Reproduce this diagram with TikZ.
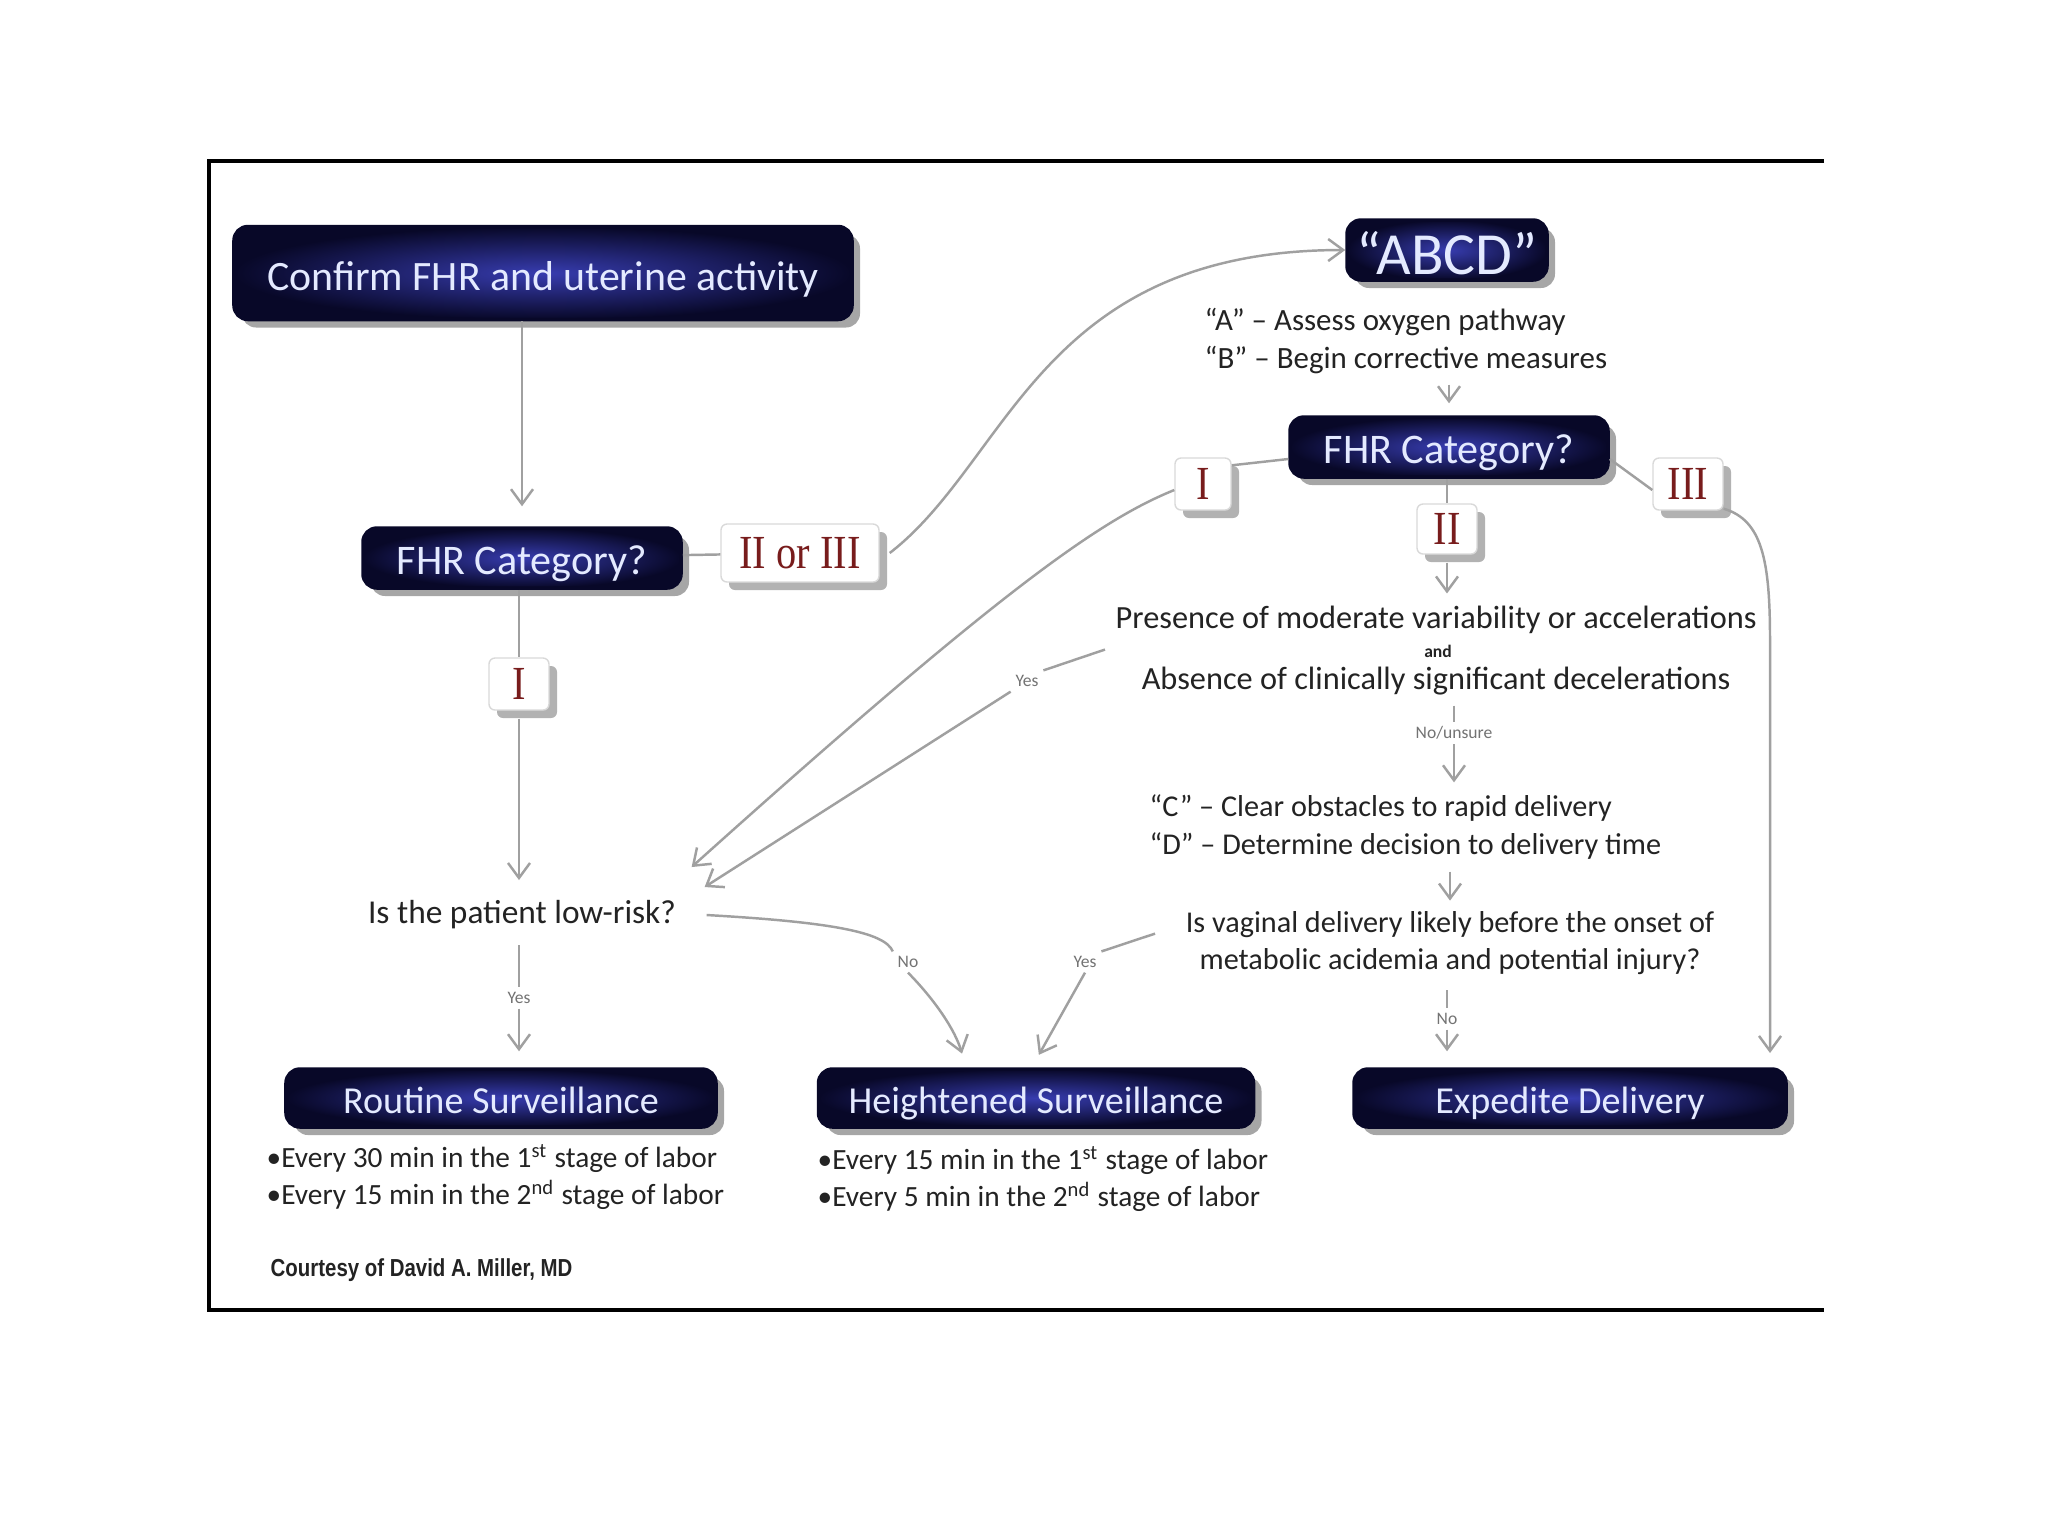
\documentclass[tikz,border=0pt]{standalone}
\usepackage{fontspec}
\usepackage{graphicx}
\setmainfont{Carlito}
\newfontfamily\tagfont{Liberation Serif}
\newfontfamily\credfont{Liberation Sans}
\usetikzlibrary{arrows.meta,shadows,calc}

\definecolor{navyedge}{RGB}{8,8,40}
\definecolor{navymid}{RGB}{55,60,175}
\definecolor{boxtext}{RGB}{228,234,255}
\definecolor{conn}{RGB}{160,160,160}
\definecolor{tagred}{RGB}{120,28,28}
\definecolor{txt}{RGB}{35,35,35}

\tikzset{
  darkbox/.style={rounded corners=1.4mm, draw=navyedge, line width=1pt,
    inner color=navymid, outer color=navyedge, text=boxtext,
    drop shadow={shadow xshift=0.8mm, shadow yshift=-0.8mm, fill=black, opacity=0.35},
    inner sep=0pt, align=center},
  tagbox/.style={fill=white, draw=gray!30, line width=0.4pt, rounded corners=0.6mm,
    text=tagred, inner sep=0pt,
    drop shadow={shadow xshift=0.8mm, shadow yshift=-0.8mm, fill=gray!60, opacity=1}},
  lbl/.style={text=txt, inner sep=0pt, align=center},
  lbll/.style={text=txt, inner sep=0pt, align=left},
  tiny/.style={text=gray!90!black, inner sep=1.2pt, font=\fontsize{5}{6}\selectfont},
  conn/.style={draw=conn, line width=0.7pt},
  arr/.style={conn, -{Straight Barb[length=1.5mm,width=2.2mm]}},
}
\newcommand{\tagtxt}[1]{\scalebox{0.92}[1.08]{#1}}

\begin{document}
\begin{tikzpicture}[x=0.1mm,y=-0.1mm]
\useasboundingbox (0,0) rectangle (2048,1536);
\fill[white] (0,0) rectangle (2048,1536);
% frame (open on the right)
\draw[line width=1.3pt, black] (1824,161) -- (209,161) -- (209,1310) -- (1824,1310);

% dark boxes
\node[darkbox, minimum width=61.8mm, minimum height=9.3mm, text height=11.2pt, text depth=1pt,
  font=\fontsize{11.9}{13}\selectfont] (confirm) at (543,273) {Confirm FHR and uterine activity};
\node[darkbox, minimum width=31.8mm, minimum height=6mm, text height=10.6pt, text depth=1pt,
  font=\fontsize{12}{13}\selectfont] (fhra) at (522,558) {FHR Category?};
\node[darkbox, minimum width=20mm, minimum height=6mm, text height=14.8pt, text depth=1pt,
  font=\fontsize{17}{19}\selectfont] (abcd) at (1447,250) {“ABCD”};
\node[darkbox, minimum width=31.8mm, minimum height=6mm, text height=10.6pt, text depth=1pt,
  font=\fontsize{12}{13}\selectfont] (fhrb) at (1449,447) {FHR Category?};
\node[darkbox, minimum width=43mm, minimum height=5.8mm, text height=9.9pt, text depth=1pt,
  font=\fontsize{10.85}{12}\selectfont] (routine) at (501,1098) {Routine Surveillance};
\node[darkbox, minimum width=43.5mm, minimum height=5.8mm, text height=9.9pt, text depth=1pt,
  font=\fontsize{10.85}{12}\selectfont] (height) at (1036,1098) {Heightened Surveillance};
\node[darkbox, minimum width=43.2mm, minimum height=5.8mm, text height=9.9pt, text depth=1pt,
  font=\fontsize{10.85}{12}\selectfont] (expedite) at (1570,1098) {Expedite Delivery};

% tags
\node[tagbox, minimum width=15.8mm, minimum height=5.8mm,
  font=\tagfont\fontsize{12.5}{13}\selectfont] (tagiiiii) at (800,553) {\tagtxt{II or III}};
\node[tagbox, minimum width=6mm, minimum height=5.2mm,
  font=\tagfont\fontsize{12.5}{13}\selectfont] (tagia) at (519,684) {\tagtxt{I}};
\node[tagbox, minimum width=5.6mm, minimum height=5.2mm,
  font=\tagfont\fontsize{12.5}{13}\selectfont] (tagib) at (1203,484) {\tagtxt{I}};
\node[tagbox, minimum width=6mm, minimum height=5mm,
  font=\tagfont\fontsize{12.5}{13}\selectfont] (tagii) at (1447,529) {\tagtxt{II}};
\node[tagbox, minimum width=7mm, minimum height=5.2mm,
  font=\tagfont\fontsize{12.5}{13}\selectfont] (tagiii) at (1688,484) {\tagtxt{III}};

% plain texts
\node[lbl, font=\fontsize{9.5}{11}\selectfont] (lowrisk) at (522,915) {Is the patient low-risk?};
\node[lbll, anchor=west, font=\fontsize{8.8}{10.8}\selectfont] (ab) at (1204,341)
  {“A” – Assess oxygen pathway\\“B” – Begin corrective measures};
\node[lbl, font=\fontsize{9.2}{10}\selectfont] (presence) at (1436,620)
  {Presence of moderate variability or accelerations};
\node[lbl, font=\bfseries\fontsize{5}{6}\selectfont] (and) at (1438,651) {and};
\node[lbl, font=\fontsize{9.2}{10}\selectfont] (absence) at (1436,681)
  {Absence of clinically significant decelerations};
\node[lbll, anchor=west, font=\fontsize{8.6}{10.6}\selectfont] (cd) at (1149,827)
  {“C” – Clear obstacles to rapid delivery\\“D” – Determine decision to delivery time};
\node[lbl, font=\fontsize{8.6}{10.6}\selectfont] (vaginal) at (1450,943)
  {Is vaginal delivery likely before the onset of\\metabolic acidemia and potential injury?};
\node[lbll, anchor=north west, font=\fontsize{8.35}{10.6}\selectfont] (bulla) at (266,1144)
  {\textbullet Every 30 min in the 1\textsuperscript{st} stage of labor\\
   \textbullet Every 15 min in the 2\textsuperscript{nd} stage of labor};
\node[lbll, anchor=north west, font=\fontsize{8.35}{10.6}\selectfont] (bullb) at (817,1146)
  {\textbullet Every 15 min in the 1\textsuperscript{st} stage of labor\\
   \textbullet Every 5 min in the 2\textsuperscript{nd} stage of labor};
\node[lbll, anchor=west, font=\credfont\bfseries\fontsize{7}{8}\selectfont] (credit) at (270,1270)
  {\scalebox{0.83}[1]{Courtesy of David A. Miller, MD}};

% small connector labels
\node[tiny] (yesa) at (519,998) {Yes};
\node[tiny] (noa) at (908,962) {No};
\node[tiny] (yesb) at (1085,962) {Yes};
\node[tiny] (nob) at (1447,1019) {No};
\node[tiny] (yesc) at (1027,681) {Yes};
\node[tiny] (unsure) at (1454,733) {No/unsure};

% free connector ends
\coordinate (lrI) at ([shift={(1.5mm,3.3mm)}]lowrisk.north east);
\coordinate (lrY) at ([shift={(2.8mm,1.3mm)}]lowrisk.north east);

% connectors, left column
\draw[arr, shorten >=2mm] (confirm.south -| fhra.north) -- (fhra.north);
\draw[conn] (fhra) -- (tagiiiii);
\draw[conn] (fhra.south -| tagia.north) -- (tagia.north);
\draw[arr, shorten >=2mm, shorten <=0.8mm] (tagia.south) -- (tagia.south |- lowrisk.north);
\draw[conn, shorten <=1.5mm] (lowrisk.south -| yesa.north) -- (yesa);
\draw[arr, shorten >=1.6mm] (yesa) -- (yesa |- routine.north);
\draw[conn] ([xshift=3mm]lowrisk.east) .. controls (830,922) and (885,932) .. (noa.north west);
\draw[arr, shorten >=1.4mm] (noa.south) .. controls (935,1000) and (955,1030) .. (966,1067);
\draw[arr] ([xshift=1mm]tagiiiii.east) .. controls (1010,460) and (1040,250) .. (abcd.west);

% right column
\draw[arr, shorten <=1mm, shorten >=1.2mm] (ab.south -| fhrb.north) -- (fhrb.north);
\draw[conn] ([yshift=-1.2mm]fhrb.west) -- ([yshift=-0.8mm]tagib.north east);
\draw[conn] ([yshift=-1.2mm]fhrb.east) -- ([yshift=-0.6mm]tagiii.west);
\draw[conn] (fhrb.south -| tagii.north) -- (tagii.north);
\draw[arr, shorten <=0.8mm, shorten >=1.2mm] (tagii.south) -- (tagii.south |- presence.north);
\draw[conn, shorten <=1mm] (absence.south -| unsure.north) -- (unsure);
\draw[arr, shorten >=1.2mm] (unsure) -- (cd.north -| unsure.north);
\draw[arr, shorten <=1.2mm, shorten >=1mm] (cd.south -| vaginal.north) -- (vaginal.north);
\draw[conn, shorten <=1.5mm] (vaginal.south -| nob.north) -- (nob);
\draw[arr, shorten >=1.6mm] (nob) -- (nob |- expedite.north);
\draw[conn] ([shift={(-3mm,-2.3mm)}]vaginal.north west) -- (yesb.north east);
\draw[arr, shorten >=1.4mm] (yesb.south) -- (1032,1067);
\draw[arr, shorten >=1.4mm] ([yshift=0.2mm]tagiii.south east) .. controls (1762,520) and (1770,560) .. (1770,640) -- (1770,1067);
\draw[conn] ([shift={(-1mm,-1.5mm)}]presence.south west) -- (yesc.north east);
\draw[arr] (yesc.south west) -- (lrY);
\draw[arr] ([yshift=-0.6mm]tagib.west) .. controls (1100,520) and (1000,590) .. (lrI);
\end{tikzpicture}
\end{document}
